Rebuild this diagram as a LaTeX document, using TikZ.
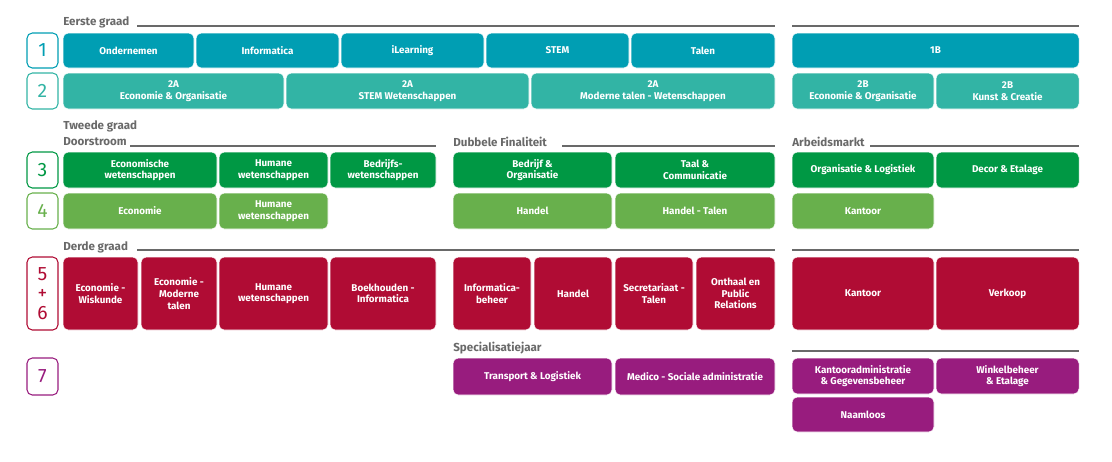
\documentclass[tikz,border=0pt]{standalone}
\usepackage{fontspec}
\setmainfont{Fira Sans}
\usetikzlibrary{positioning}
\definecolor{cyanA}{RGB}{0,158,179}
\definecolor{tealB}{RGB}{50,180,165}
\definecolor{greenC}{RGB}{0,152,68}
\definecolor{greenD}{RGB}{104,176,76}
\definecolor{redE}{RGB}{176,12,52}
\definecolor{purpleF}{RGB}{152,28,126}
\definecolor{headgray}{RGB}{105,105,105}
\tikzset{
  blk/.style={draw=white, line width=0.3pt, fill=#1, rounded corners=3pt, text=white, align=center,
    font=\fontsize{5.6}{6.6}\selectfont\bfseries, inner sep=0pt},
  num/.style={draw=#1, line width=0.6pt, rounded corners=3pt, fill=white, text=#1,
    font=\fontsize{11}{11}\selectfont, align=center, inner sep=0pt},
  head/.style={anchor=west, text=headgray, font=\fontsize{6.6}{7}\selectfont\bfseries, inner sep=0pt},
  rule/.style={draw=headgray, line width=0.6pt}
}
% box from x1 to x2, y1 to y2 (pixel units)
\newcommand{\blkbox}[7]{%
  \node[blk=#1, minimum width={(#3-#2)*0.02cm}, minimum height={(#5-#4)*0.02cm}]
    (#6) at ({(#2+#3)/2},{(#4+#5)/2}) {#7};}
\newcommand{\numbox}[6]{%
  \node[num=#1, minimum width={(#3-#2)*0.02cm}, minimum height={(#5-#4)*0.02cm}]
    (n#6) at ({(#2+#3)/2},{(#4+#5)/2}) {#6};}
\begin{document}
\begin{tikzpicture}[x=0.02cm, y=-0.02cm]
  \useasboundingbox (0,0) rectangle (1112,461);

  % Headers
  \node[head] (eerste) at (63,22) {Eerste graad};
  \draw[rule] (137,26) -- (775,26);
  \draw[rule] (792,26) -- (1079,26);
  \node[head] (tweede) at (63,126) {Tweede graad};
  \node[head] (door) at (63,142) {Doorstroom};
  \draw[rule] (130,146) -- (436,146);
  \node[head] (dubbel) at (453,142) {Dubbele Finaliteit};
  \draw[rule] (562,146) -- (775,146);
  \node[head] (arbeid) at (792,142) {Arbeidsmarkt};
  \draw[rule] (870,146) -- (1079,146);
  \node[head] (derde) at (63,247) {Derde graad};
  \draw[rule] (137,250) -- (775,250);
  \draw[rule] (792,250) -- (1079,250);
  \node[head] (spec) at (453,348) {Specialisatiejaar};
  \draw[rule] (792,351) -- (1079,351);

  % Year numbers
  \numbox{cyanA}{27}{58}{33}{68}{1}
  \numbox{tealB}{27}{58}{73}{109}{2}
  \numbox{greenC}{27}{58}{152}{188}{3}
  \numbox{greenD}{27}{58}{193}{229}{4}
  \node[num=redE, minimum width=0.62cm, minimum height=1.46cm, font=\fontsize{11}{12}\selectfont]
    (n56) at (42.5,293.5) {5\\[-1pt]+\\[-1pt]6};
  \numbox{purpleF}{27}{58}{358}{395}{7}

  % Eerste graad
  \blkbox{cyanA}{63}{194}{33}{68}{ond}{Ondernemen}
  \blkbox{cyanA}{196}{339}{33}{68}{inf}{Informatica}
  \blkbox{cyanA}{341}{484}{33}{68}{ilr}{iLearning}
  \blkbox{cyanA}{486}{629}{33}{68}{stem}{STEM}
  \blkbox{cyanA}{631}{775}{33}{68}{tal}{Talen}
  \blkbox{cyanA}{792}{1079}{33}{68}{eenb}{1B}
  \blkbox{tealB}{63}{284}{73}{109}{aeo}{2A\\Economie \& Organisatie}
  \blkbox{tealB}{286}{529}{73}{109}{astem}{2A\\STEM Wetenschappen}
  \blkbox{tealB}{531}{775}{73}{109}{amod}{2A\\Moderne talen - Wetenschappen}
  \blkbox{tealB}{792}{934}{73}{109}{beo}{2B\\Economie \& Organisatie}
  \blkbox{tealB}{936}{1079}{73}{109}{bkc}{2B\\Kunst \& Creatie}

  % Tweede graad
  \blkbox{greenC}{63}{217}{152}{188}{ecw}{Economische\\wetenschappen}
  \blkbox{greenC}{219}{328}{152}{188}{huw}{Humane\\wetenschappen}
  \blkbox{greenC}{330}{436}{152}{188}{bew}{Bedrijfs-\\wetenschappen}
  \blkbox{greenC}{453}{612}{152}{188}{beo3}{Bedrijf \&\\Organisatie}
  \blkbox{greenC}{615}{775}{152}{188}{tc}{Taal \&\\Communicatie}
  \blkbox{greenC}{792}{934}{152}{188}{ol}{Organisatie \& Logistiek}
  \blkbox{greenC}{936}{1079}{152}{188}{de}{Decor \& Etalage}
  \blkbox{greenD}{63}{217}{193}{229}{eco}{Economie}
  \blkbox{greenD}{219}{328}{193}{229}{huw4}{Humane\\wetenschappen}
  \blkbox{greenD}{453}{612}{193}{229}{han}{Handel}
  \blkbox{greenD}{615}{775}{193}{229}{hant}{Handel - Talen}
  \blkbox{greenD}{792}{934}{193}{229}{kan}{Kantoor}

  % Derde graad
  \blkbox{redE}{63}{138}{257}{330}{ew}{Economie -\\Wiskunde}
  \blkbox{redE}{141}{217}{257}{330}{emt}{Economie -\\Moderne\\talen}
  \blkbox{redE}{219}{328}{257}{330}{huw5}{Humane\\wetenschappen}
  \blkbox{redE}{330}{436}{257}{330}{bi}{Boekhouden -\\Informatica}
  \blkbox{redE}{453}{531}{257}{330}{ib}{Informatica-\\beheer}
  \blkbox{redE}{534}{612}{257}{330}{han5}{Handel}
  \blkbox{redE}{615}{693}{257}{330}{st}{Secretariaat -\\Talen}
  \blkbox{redE}{696}{775}{257}{330}{opr}{Onthaal en\\Public\\Relations}
  \blkbox{redE}{792}{934}{257}{330}{kan5}{Kantoor}
  \blkbox{redE}{936}{1079}{257}{330}{ver}{Verkoop}

  % Specialisatiejaar
  \blkbox{purpleF}{453}{612}{358}{395}{tl}{Transport \& Logistiek}
  \blkbox{purpleF}{615}{775}{358}{395}{msa}{Medico - Sociale administratie}
  \blkbox{purpleF}{792}{934}{358}{394}{kag}{Kantooradministratie\\\& Gegevensbeheer}
  \blkbox{purpleF}{936}{1079}{358}{394}{wbe}{Winkelbeheer\\\& Etalage}
  \blkbox{purpleF}{792}{934}{397}{432}{naam}{Naamloos}
\end{tikzpicture}
\end{document}
